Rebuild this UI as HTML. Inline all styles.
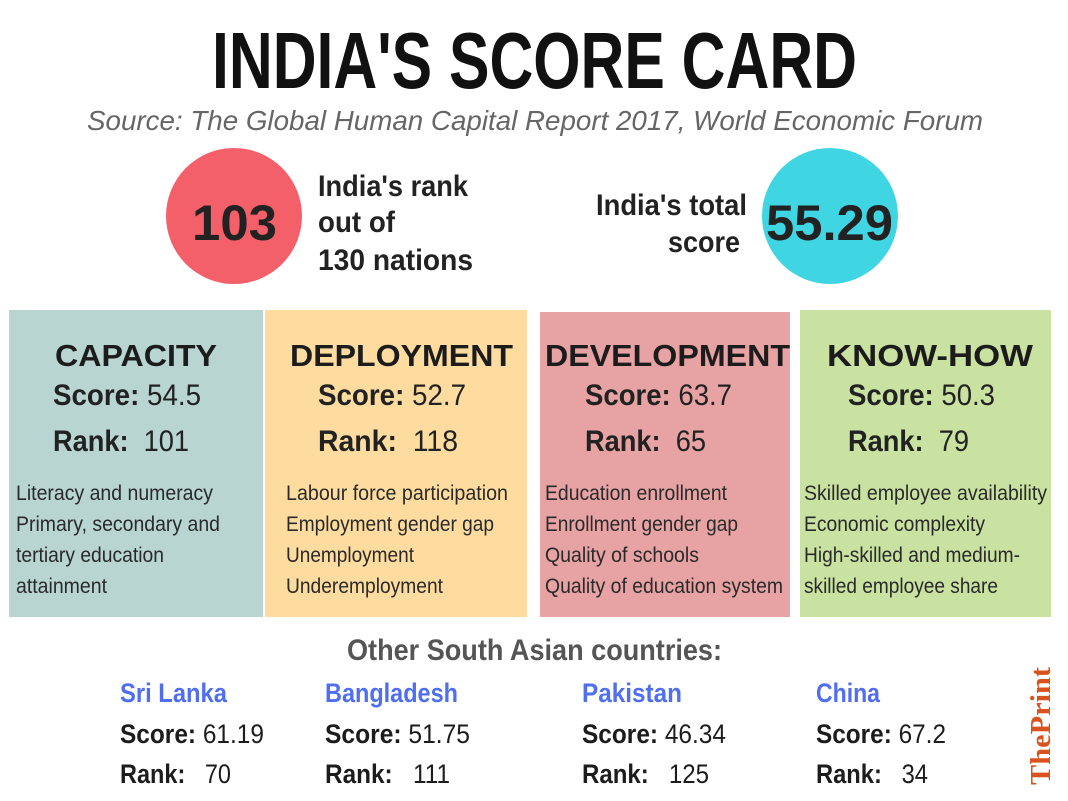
<!DOCTYPE html>
<html><head><meta charset="utf-8"><style>html,body{margin:0;padding:0;background:#fff}svg{display:block}</style></head><body>
<svg width="1068" height="801" viewBox="0 0 1068 801" xmlns="http://www.w3.org/2000/svg" font-family="Liberation Sans, sans-serif" fill="#222">
<text x="212" y="88" font-size="80" font-weight="bold" textLength="645" lengthAdjust="spacingAndGlyphs" fill="#111">INDIA'S SCORE CARD</text>
<text x="87" y="130" font-size="28" font-style="italic" textLength="896" lengthAdjust="spacingAndGlyphs" fill="#666">Source: The Global Human Capital Report 2017, World Economic Forum</text>
<circle cx="234" cy="216" r="68" fill="#f4606a"/>
<circle cx="830" cy="216" r="68" fill="#3fd5e3"/>
<text x="192" y="240" font-size="50" font-weight="bold" textLength="85" lengthAdjust="spacingAndGlyphs">103</text>
<text x="766" y="240" font-size="50" font-weight="bold" textLength="127" lengthAdjust="spacingAndGlyphs">55.29</text>
<g font-size="30" font-weight="bold">
<text x="318" y="196" textLength="150" lengthAdjust="spacingAndGlyphs">India's rank</text>
<text x="318" y="232" textLength="77" lengthAdjust="spacingAndGlyphs">out of</text>
<text x="318" y="270" textLength="155" lengthAdjust="spacingAndGlyphs">130 nations</text>
<text x="596" y="215" textLength="151" lengthAdjust="spacingAndGlyphs">India's total</text>
<text x="668" y="252" textLength="72" lengthAdjust="spacingAndGlyphs">score</text>
</g>
<rect x="9" y="310" width="254" height="307" fill="#b8d5d2"/>
<rect x="265" y="310" width="262" height="307" fill="#fedc9f"/>
<rect x="540" y="312" width="250" height="305" fill="#e7a3a3"/>
<rect x="800" y="310" width="251" height="307" fill="#c9e1a1"/>
<g font-size="31" font-weight="bold" fill="#1c1c1c">
<text x="55" y="366" textLength="162" lengthAdjust="spacingAndGlyphs">CAPACITY</text>
<text x="290" y="366" textLength="223" lengthAdjust="spacingAndGlyphs">DEPLOYMENT</text>
<text x="545" y="366" textLength="245" lengthAdjust="spacingAndGlyphs">DEVELOPMENT</text>
<text x="827" y="366" textLength="206" lengthAdjust="spacingAndGlyphs">KNOW-HOW</text>
</g>
<g font-size="30">
<text x="53" y="405" textLength="148" lengthAdjust="spacingAndGlyphs"><tspan font-weight="bold">Score:</tspan> 54.5</text>
<text x="53" y="451" textLength="136" lengthAdjust="spacingAndGlyphs"><tspan font-weight="bold">Rank:</tspan>&#160;&#160;101</text>
<text x="318" y="405" textLength="148" lengthAdjust="spacingAndGlyphs"><tspan font-weight="bold">Score:</tspan> 52.7</text>
<text x="318" y="451" textLength="140" lengthAdjust="spacingAndGlyphs"><tspan font-weight="bold">Rank:</tspan>&#160;&#160;118</text>
<text x="585" y="405" textLength="147" lengthAdjust="spacingAndGlyphs"><tspan font-weight="bold">Score:</tspan> 63.7</text>
<text x="585" y="451" textLength="121" lengthAdjust="spacingAndGlyphs"><tspan font-weight="bold">Rank:</tspan>&#160;&#160;65</text>
<text x="848" y="405" textLength="147" lengthAdjust="spacingAndGlyphs"><tspan font-weight="bold">Score:</tspan> 50.3</text>
<text x="848" y="451" textLength="121" lengthAdjust="spacingAndGlyphs"><tspan font-weight="bold">Rank:</tspan>&#160;&#160;79</text>
</g>
<g font-size="21" fill="#2a2a2a">
<text x="16" y="500" textLength="197" lengthAdjust="spacingAndGlyphs">Literacy and numeracy</text>
<text x="16" y="531" textLength="204" lengthAdjust="spacingAndGlyphs">Primary, secondary and</text>
<text x="16" y="562" textLength="148" lengthAdjust="spacingAndGlyphs">tertiary education</text>
<text x="16" y="593" textLength="91" lengthAdjust="spacingAndGlyphs">attainment</text>
<text x="286" y="500" textLength="222" lengthAdjust="spacingAndGlyphs">Labour force participation</text>
<text x="286" y="531" textLength="208" lengthAdjust="spacingAndGlyphs">Employment gender gap</text>
<text x="286" y="562" textLength="128" lengthAdjust="spacingAndGlyphs">Unemployment</text>
<text x="286" y="593" textLength="157" lengthAdjust="spacingAndGlyphs">Underemployment</text>
<text x="545" y="500" textLength="182" lengthAdjust="spacingAndGlyphs">Education enrollment</text>
<text x="545" y="531" textLength="193" lengthAdjust="spacingAndGlyphs">Enrollment gender gap</text>
<text x="545" y="562" textLength="154" lengthAdjust="spacingAndGlyphs">Quality of schools</text>
<text x="545" y="593" textLength="238" lengthAdjust="spacingAndGlyphs">Quality of education system</text>
<text x="804" y="500" textLength="243" lengthAdjust="spacingAndGlyphs">Skilled employee availability</text>
<text x="804" y="531" textLength="181" lengthAdjust="spacingAndGlyphs">Economic complexity</text>
<text x="804" y="562" textLength="216" lengthAdjust="spacingAndGlyphs">High-skilled and medium-</text>
<text x="804" y="593" textLength="194" lengthAdjust="spacingAndGlyphs">skilled employee share</text>
</g>
<text x="347" y="660" font-size="30" font-weight="bold" fill="#555" textLength="375" lengthAdjust="spacingAndGlyphs">Other South Asian countries:</text>
<g font-size="27" font-weight="bold" fill="#4f6ef0">
<text x="120" y="702" textLength="107" lengthAdjust="spacingAndGlyphs">Sri Lanka</text>
<text x="325" y="702" textLength="133" lengthAdjust="spacingAndGlyphs">Bangladesh</text>
<text x="582" y="702" textLength="100" lengthAdjust="spacingAndGlyphs">Pakistan</text>
<text x="816" y="702" textLength="64" lengthAdjust="spacingAndGlyphs">China</text>
</g>
<g font-size="27" fill="#1c1c1c">
<text x="120" y="743" textLength="144" lengthAdjust="spacingAndGlyphs"><tspan font-weight="bold">Score:</tspan> 61.19</text>
<text x="120" y="783" textLength="111" lengthAdjust="spacingAndGlyphs"><tspan font-weight="bold">Rank:</tspan>&#160;&#160;&#160;70</text>
<text x="325" y="743" textLength="145" lengthAdjust="spacingAndGlyphs"><tspan font-weight="bold">Score:</tspan> 51.75</text>
<text x="325" y="783" textLength="125" lengthAdjust="spacingAndGlyphs"><tspan font-weight="bold">Rank:</tspan>&#160;&#160;&#160;111</text>
<text x="582" y="743" textLength="144" lengthAdjust="spacingAndGlyphs"><tspan font-weight="bold">Score:</tspan> 46.34</text>
<text x="582" y="783" textLength="127" lengthAdjust="spacingAndGlyphs"><tspan font-weight="bold">Rank:</tspan>&#160;&#160;&#160;125</text>
<text x="816" y="743" textLength="130" lengthAdjust="spacingAndGlyphs"><tspan font-weight="bold">Score:</tspan> 67.2</text>
<text x="816" y="783" textLength="112" lengthAdjust="spacingAndGlyphs"><tspan font-weight="bold">Rank:</tspan>&#160;&#160;&#160;34</text>
</g>
<text transform="translate(1050,785) rotate(-90)" font-family="Liberation Serif, serif" font-size="28" font-weight="bold" fill="#d9531e" textLength="118" lengthAdjust="spacingAndGlyphs">The<tspan>Print</tspan></text>
</svg>
</body></html>
